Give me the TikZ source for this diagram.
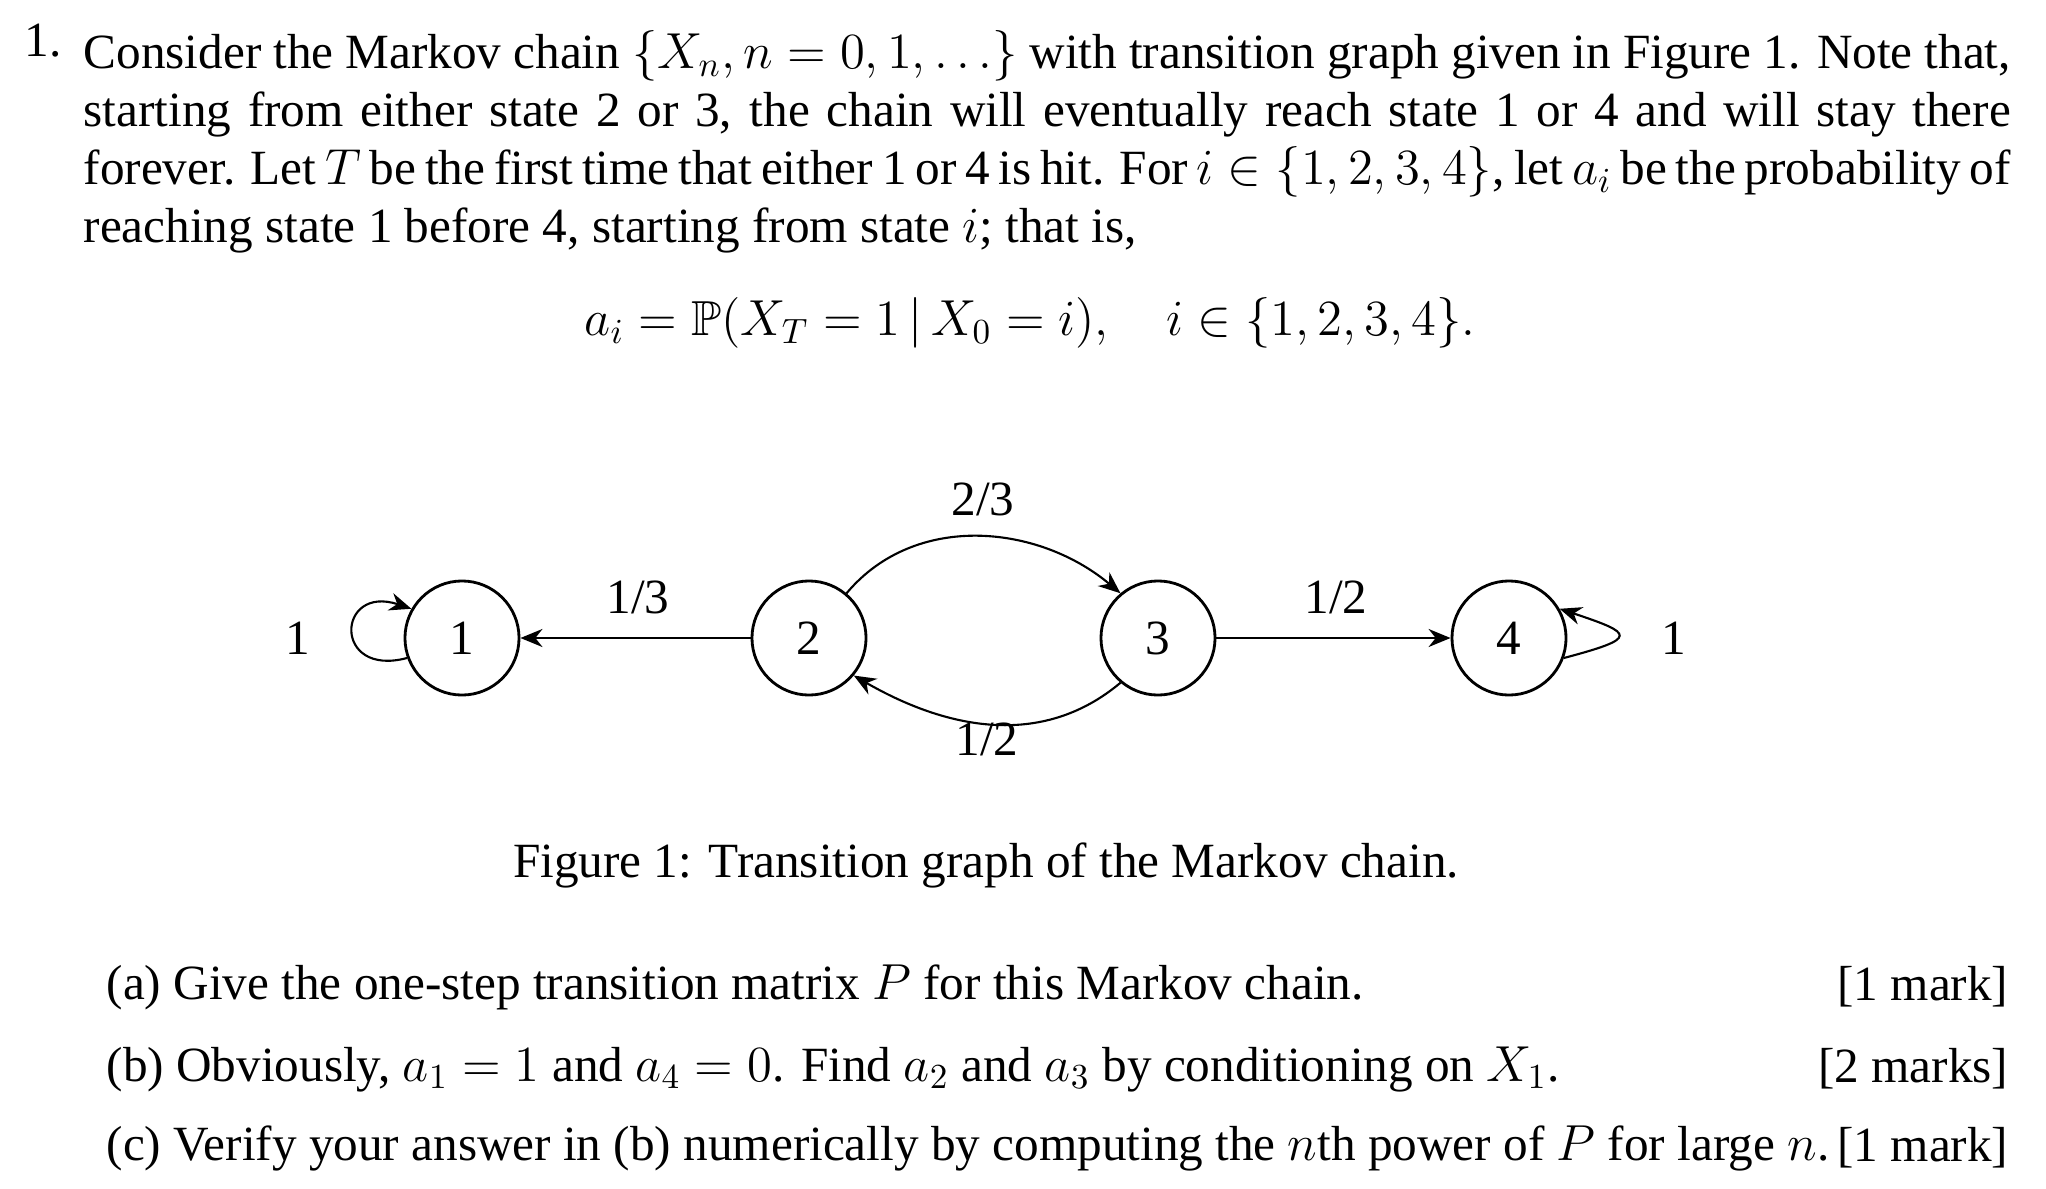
\documentclass[tikz,border=0pt]{standalone}
\usepackage{amssymb}
\usepackage[no-math]{fontspec}
\setmainfont{Liberation Serif}
\usetikzlibrary{arrows.meta}
\begin{document}
\begin{tikzpicture}[x=0.01cm,y=-0.01cm,
  st/.style={circle,draw,thick,minimum size=1.14cm,inner sep=0pt},
  tx/.style={inner sep=0pt,font=\fontsize{14}{16.5}\selectfont},
  ar/.style={-{Stealth[length=2.2mm,width=1.8mm]},semithick}]
\useasboundingbox (0,0) rectangle (2046,1188);
\node[tx,anchor=base west] (num) at (24,57) {1.};
\node[tx,anchor=north west,text width=19.26cm,align=justify] (para) at (83,30) {%
Consider the Markov chain $\{X_n, n=0,1,\ldots\}$ with transition graph given in Figure 1. Note that,\linebreak
starting from either state 2 or 3, the chain will eventually reach state 1 or 4 and will stay there\linebreak
forever. Let $T$ be the first time that either 1 or 4 is hit. For $i\in\{1,2,3,4\}$, let $a_i$ be the probability of\linebreak
reaching state 1 before 4, starting from state $i$; that is,};
\node[tx] (eq) at (1030,323) {$a_i=\mathbb{P}(X_T=1\,|\,X_0=i),\quad i\in\{1,2,3,4\}.$};
\node[st,font=\fontsize{14}{16}\selectfont] (n1) at (462,638) {1};
\node[st,font=\fontsize{14}{16}\selectfont] (n2) at (809,638) {2};
\node[st,font=\fontsize{14}{16}\selectfont] (n3) at (1158,638) {3};
\node[st,font=\fontsize{14}{16}\selectfont] (n4) at (1509,638) {4};
\draw[ar] (n2) -- (n1);
\draw[ar] (n3) -- (n4);
\draw[ar] (n2.50) to[out=50,in=140] (n3.130);
\draw[ar] (n3.230) to[out=220,in=-30] (n2.-40);
\draw[ar] (n1.200) .. controls +(-75,20) and +(-75,-25) .. (n1.150);
\draw[ar] (n4.-20) .. controls +(75,-20) and +(75,25) .. (n4.30);
\node[tx] (l13) at (638,597) {1/3};
\node[tx] (l23) at (983,499) {2/3};
\node[tx] (l12a) at (1336,597) {1/2};
\node[tx] (l12b) at (987,739) {1/2};
\node[tx] (s1) at (298,638) {1};
\node[tx] (s4) at (1674,638) {1};
\node[tx] (cap) at (986,865) {Figure 1: Transition graph of the Markov chain.};
\node[tx,anchor=west] (qa) at (106,987) {(a) Give the one-step transition matrix $P$ for this Markov chain.};
\node[tx,anchor=east] (ma) at (2009,987) {[1 mark]};
\node[tx,anchor=west] (qb) at (106,1069) {(b) Obviously, $a_1=1$ and $a_4=0$. Find $a_2$ and $a_3$ by conditioning on $X_1$.};
\node[tx,anchor=east] (mb) at (2009,1069) {[2 marks]};
\node[tx,anchor=west] (qc) at (106,1148) {(c) Verify your answer in (b) numerically by computing the $n$th power of $P$ for large $n$.};
\node[tx,anchor=east] (mc) at (2009,1148) {[1 mark]};
\end{tikzpicture}
\end{document}
